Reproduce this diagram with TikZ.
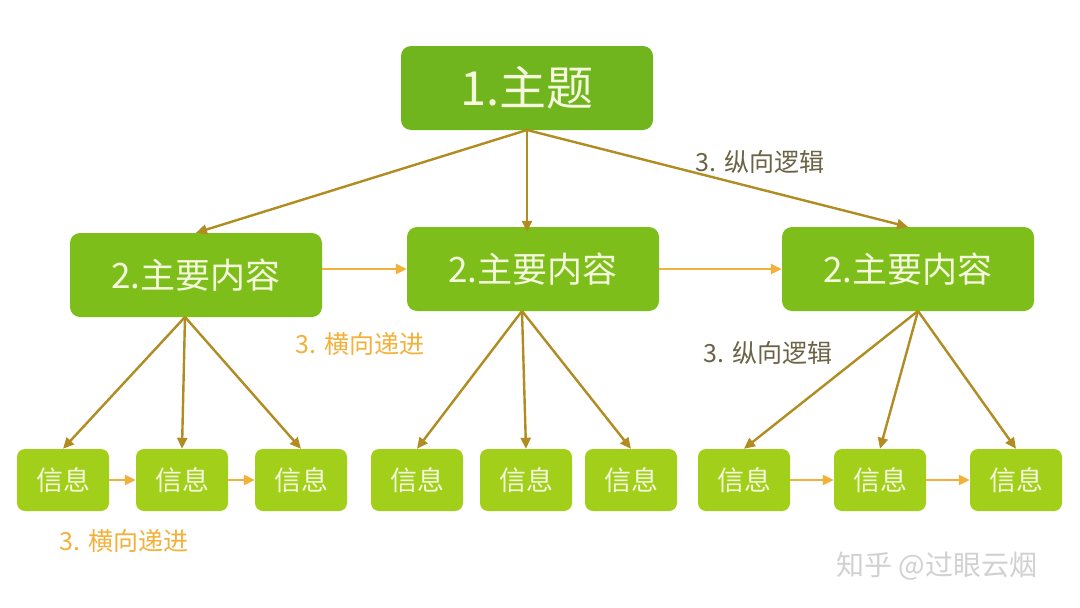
\documentclass[tikz,border=0pt]{standalone}
\usepackage{fontspec}
\setmainfont{Noto Sans CJK SC}
\usetikzlibrary{arrows.meta}
\definecolor{topgreen}{HTML}{70B41E}
\definecolor{midgreen}{HTML}{7EBE1A}
\definecolor{lowgreen}{HTML}{A2CF1A}
\definecolor{vline}{HTML}{B08C22}
\definecolor{hline}{HTML}{F2B13A}
\definecolor{vtext}{HTML}{6A6345}
\definecolor{boxtext}{HTML}{F4F8DC}
\tikzset{
  topbox/.style={fill=topgreen,rounded corners=10pt,minimum width=252pt,minimum height=84pt,text=boxtext,font=\fontsize{47}{50}\selectfont,inner sep=0pt},
  midbox/.style={fill=midgreen,rounded corners=10pt,minimum width=252pt,minimum height=84pt,text=boxtext,font=\fontsize{35}{38}\selectfont,inner sep=0pt},
  lowbox/.style={fill=lowgreen,rounded corners=8pt,minimum width=92pt,minimum height=62pt,text=boxtext,font=\fontsize{27}{30}\selectfont,inner sep=0pt},
  varrow/.style={draw=vline,line width=2.4pt,-{Triangle[length=11pt,width=10pt]}},
  harrow/.style={draw=hline,line width=2.4pt,-{Triangle[length=11pt,width=10pt]}},
  vlabel/.style={text=vtext,font=\fontsize{25}{28}\selectfont},
  hlabel/.style={text=hline,font=\fontsize{25}{28}\selectfont},
  wm/.style={text=black!18,font=\fontsize{28}{32}\selectfont}
}
\begin{document}
\begin{tikzpicture}[x=1pt,y=-1pt]
\useasboundingbox[fill=white] (0,0) rectangle (1080,608);
\node[topbox] (t) at (527,88) {1.主题};
\node[midbox] (m1) at (196,275) {2.主要内容};
\node[midbox] (m2) at (533,269) {2.主要内容};
\node[midbox] (m3) at (908,269) {2.主要内容};
\node[lowbox] (a1) at (63,480) {信息};
\node[lowbox] (a2) at (182,480) {信息};
\node[lowbox] (a3) at (301,480) {信息};
\node[lowbox] (b1) at (417,480) {信息};
\node[lowbox] (b2) at (526,480) {信息};
\node[lowbox] (b3) at (631,480) {信息};
\node[lowbox] (c1) at (744,480) {信息};
\node[lowbox] (c2) at (880,480) {信息};
\node[lowbox] (c3) at (1016,480) {信息};
% vertical logic
\coordinate (tb) at (527,130);
\draw[varrow] (tb) -- (m1.north);
\draw[varrow] (tb) -- ([yshift=-5pt]m2.north -| tb);
\draw[varrow] (tb) -- (m3.north);
\coordinate (m1b) at (185,317);
\coordinate (m2b) at (522,311);
\coordinate (m3b) at (918,311);
\draw[varrow] (m1b) -- (a1.north);
\draw[varrow] (m1b) -- (a2.north);
\draw[varrow] (m1b) -- (a3.north);
\draw[varrow] (m2b) -- (b1.north);
\draw[varrow] (m2b) -- (b2.north);
\draw[varrow] (m2b) -- (b3.north);
\draw[varrow] (m3b) -- (c1.north);
\draw[varrow] (m3b) -- (c2.north);
\draw[varrow] (m3b) -- (c3.north);
% horizontal progression
\draw[harrow] (m1.east |- m2.west) -- (m2.west);
\draw[harrow] (m2.east) -- (m3.west);
\draw[harrow] (a1) -- (a2);
\draw[harrow] (a2) -- (a3);
\draw[harrow] (c1) -- (c2);
\draw[harrow] (c2) -- (c3);
% labels
\node[vlabel] (l1) at (760,162) {3. 纵向逻辑};
\node[hlabel] (l2) at (360,344) {3. 横向递进};
\node[vlabel] (l3) at (768,353) {3. 纵向逻辑};
\node[hlabel] (l4) at (124,541) {3. 横向递进};
\node[wm] (w) at (937,566) {知乎 @过眼云烟};
\end{tikzpicture}
\end{document}
